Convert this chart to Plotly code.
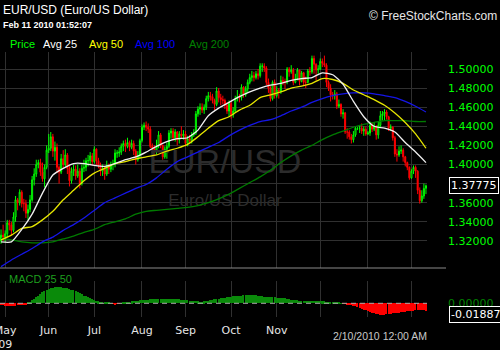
import pandas as pd
import plotly.graph_objects as go

# ---------------- data (prices in pips, 1e-4) ----------------
opens = [
    13200, 13260, 13240, 13275, 13390, 13365, 13310, 13450, 13630, 13600,
    13710, 13590, 13590, 13490, 13530, 13630, 13840, 13900, 14000, 14020,
    13920, 13850, 13970, 14150, 14170, 14290, 14140, 14180, 13970, 13920,
    14060, 14000, 14100, 13960, 13830, 13930, 13950, 13880, 13930, 13800,
    13960, 13970, 14040, 14040, 14090, 14030, 14160, 14040, 13990, 13930,
    13960, 13900, 13990, 13950, 14000, 14000, 14120, 14120, 14130, 14190,
    14220, 14190, 14230, 14180, 14220, 14140, 14050, 14090, 14250, 14390,
    14410, 14390, 14370, 14190, 14170, 14150, 14190, 14310, 14200, 14080,
    14160, 14190, 14330, 14350, 14280, 14340, 14260, 14320, 14300, 14320,
    14220, 14270, 14250, 14310, 14330, 14530, 14580, 14600, 14570, 14600,
    14690, 14720, 14710, 14670, 14630, 14770, 14700, 14680, 14670, 14620,
    14560, 14640, 14520, 14560, 14690, 14710, 14700, 14810, 14730, 14790,
    14860, 14910, 14930, 14910, 14950, 14930, 15030, 15030, 15010, 14860,
    14800, 14690, 14860, 14720, 14780, 14770, 14880, 14870, 14860, 15000,
    14970, 14990, 14860, 14900, 14990, 14870, 14960, 14860, 14860, 14980,
    14970, 15110, 15050, 14990, 15000, 15080, 15060, 15040, 14860, 14800,
    14730, 14720, 14740, 14610, 14630, 14530, 14540, 14340, 14340, 14290,
    14260, 14310, 14380, 14380, 14380, 14350, 14370, 14320, 14330, 14410,
    14370, 14400, 14310, 14410, 14510, 14530, 14550, 14500, 14380, 14390,
    14280, 14110, 14100, 14140, 14150, 14080, 14020, 13970, 13860, 13930,
    13970, 13930, 13730, 13620, 13670, 13750,
]
closes = [
    13260, 13240, 13275, 13390, 13365, 13310, 13450, 13630, 13600, 13710,
    13590, 13590, 13490, 13530, 13630, 13840, 13900, 14000, 14020, 13920,
    13850, 13970, 14150, 14170, 14290, 14140, 14180, 13970, 13920, 14060,
    14000, 14100, 13960, 13830, 13930, 13950, 13880, 13930, 13800, 13960,
    13970, 14040, 14040, 14090, 14030, 14160, 14040, 13990, 13930, 13960,
    13900, 13990, 13950, 14000, 14000, 14120, 14120, 14130, 14190, 14220,
    14190, 14230, 14180, 14220, 14140, 14050, 14090, 14250, 14390, 14410,
    14390, 14370, 14190, 14170, 14150, 14190, 14310, 14200, 14080, 14160,
    14190, 14330, 14350, 14280, 14340, 14260, 14320, 14300, 14320, 14220,
    14270, 14250, 14310, 14330, 14530, 14580, 14600, 14570, 14600, 14690,
    14720, 14710, 14670, 14630, 14770, 14700, 14680, 14670, 14620, 14560,
    14640, 14520, 14560, 14690, 14710, 14700, 14810, 14730, 14790, 14860,
    14910, 14930, 14910, 14950, 14930, 15030, 15030, 15010, 14860, 14800,
    14690, 14860, 14720, 14780, 14770, 14880, 14870, 14860, 15000, 14970,
    14990, 14860, 14900, 14990, 14870, 14960, 14860, 14860, 14980, 14970,
    15110, 15050, 14990, 15000, 15080, 15060, 15040, 14860, 14800, 14730,
    14720, 14740, 14610, 14630, 14530, 14540, 14340, 14340, 14290, 14260,
    14310, 14380, 14380, 14380, 14350, 14370, 14320, 14330, 14410, 14370,
    14400, 14310, 14410, 14510, 14530, 14550, 14500, 14380, 14390, 14280,
    14110, 14100, 14140, 14150, 14080, 14020, 13970, 13860, 13930, 13970,
    13930, 13730, 13620, 13670, 13750, 13778,
]
highs = [
    13320, 13370, 13310, 13420, 13420, 13400, 13500, 13670, 13650, 13740,
    13730, 13640, 13630, 13580, 13680, 13880, 13960, 14050, 14050, 14060,
    14020, 14000, 14200, 14320, 14340, 14320, 14240, 14220, 13990, 14110,
    14150, 14160, 14120, 13990, 13970, 14000, 13990, 14000, 13960, 14000,
    14050, 14070, 14100, 14130, 14120, 14190, 14170, 14070, 14020, 14000,
    13980, 14040, 14010, 14030, 14050, 14160, 14150, 14180, 14220, 14250,
    14260, 14280, 14250, 14260, 14250, 14160, 14140, 14270, 14420, 14440,
    14450, 14430, 14400, 14220, 14200, 14260, 14350, 14330, 14210, 14190,
    14230, 14360, 14380, 14380, 14370, 14350, 14350, 14400, 14360, 14350,
    14300, 14310, 14340, 14370, 14560, 14610, 14640, 14640, 14630, 14720,
    14760, 14760, 14740, 14690, 14810, 14800, 14740, 14720, 14690, 14650,
    14670, 14660, 14600, 14720, 14780, 14740, 14840, 14820, 14820, 14890,
    14950, 14980, 14970, 14980, 15000, 15060, 15060, 15060, 15030, 14900,
    14820, 14880, 14890, 14820, 14800, 14930, 14920, 14900, 15020, 15020,
    15040, 15010, 14950, 15010, 14990, 14980, 14970, 14920, 15000, 15020,
    15140, 15140, 15060, 15040, 15110, 15110, 15140, 15060, 14880, 14840,
    14760, 14780, 14760, 14680, 14640, 14580, 14550, 14380, 14360, 14320,
    14350, 14400, 14390, 14410, 14430, 14400, 14400, 14350, 14450, 14440,
    14440, 14410, 14450, 14560, 14560, 14580, 14570, 14510, 14420, 14400,
    14300, 14160, 14190, 14200, 14170, 14090, 14030, 13980, 13950, 13990,
    13990, 13940, 13760, 13730, 13800, 13790,
]
lows = [
    13170, 13200, 13190, 13240, 13310, 13260, 13290, 13400, 13520, 13570,
    13550, 13510, 13440, 13420, 13500, 13610, 13780, 13870, 13960, 13880,
    13820, 13760, 13950, 14120, 14140, 14080, 14040, 13910, 13800, 13900,
    13960, 13970, 13900, 13770, 13800, 13880, 13840, 13860, 13750, 13780,
    13920, 13930, 13980, 14000, 13990, 14010, 13990, 13960, 13880, 13880,
    13840, 13880, 13900, 13920, 13940, 13970, 14070, 14080, 14100, 14140,
    14130, 14170, 14140, 14160, 14100, 14000, 14030, 14060, 14230, 14360,
    14350, 14330, 14170, 14120, 14100, 14110, 14170, 14170, 14050, 14060,
    14060, 14170, 14270, 14250, 14240, 14200, 14220, 14270, 14260, 14190,
    14190, 14220, 14220, 14290, 14310, 14500, 14520, 14540, 14530, 14570,
    14660, 14670, 14640, 14570, 14610, 14650, 14620, 14630, 14580, 14530,
    14500, 14480, 14490, 14540, 14660, 14650, 14670, 14700, 14710, 14760,
    14840, 14870, 14870, 14890, 14890, 14910, 14970, 14970, 14830, 14750,
    14660, 14670, 14690, 14700, 14690, 14740, 14830, 14790, 14840, 14920,
    14950, 14830, 14850, 14880, 14830, 14860, 14830, 14800, 14850, 14930,
    14950, 14950, 14880, 14950, 14990, 15020, 15020, 14810, 14770, 14660,
    14680, 14680, 14580, 14590, 14500, 14480, 14320, 14270, 14260, 14220,
    14230, 14290, 14360, 14330, 14320, 14300, 14300, 14310, 14300, 14340,
    14350, 14260, 14270, 14390, 14460, 14460, 14470, 14350, 14350, 14250,
    14080, 14030, 14080, 14110, 14030, 13980, 13940, 13840, 13850, 13900,
    13860, 13690, 13590, 13600, 13640, 13690,
]
# MACD 25/50 histogram (units of 1e-4)
macd = [
    -40, -50, -60, -65, -70, -70, -65, -60, -55, -50, -40, -30, -20,
    10, 40, 80, 120, 160, 200, 240, 280, 310, 340,
    370, 390, 405, 410, 410, 410, 410, 405, 400, 390,
    370, 350, 330, 310, 290, 260, 230, 200, 175, 150,
    125, 100, 80, 65, 50, 40, 35, 30, 20, 10,
    5, -10, -20, -15, -5, 5, 10, 20, 30, 40,
    50, 55, 60, 65, 75, 80, 85, 90, 95, 100,
    105, 110, 115, 118, 120, 120, 118, 116, 115, 115,
    112, 110, 105, 100, 95, 90, 85, 80, 72, 65,
    60, 55, 50, 45, 45, 50, 60, 70, 80, 90,
    100, 110, 120, 130, 135, 140, 150, 155, 165, 175,
    180, 188, 195, 200, 205, 208, 210, 212, 212, 212,
    210, 200, 190, 180, 170, 165, 160, 158, 155, 152,
    145, 140, 135, 130, 125, 110, 100, 90, 85, 80,
    75, 72, 70, 68, 66, 64, 62, 60, 60, 58,
    55, 52, 50, 48, 45, 42, 38, 35, 30, 25,
    15, 5, -5, -15, -25, -35, -45, -60, -80, -100,
    -120, -140, -160, -180, -200, -220, -240, -260, -275, -285,
    -290, -292, -290, -280, -270, -262, -258, -255, -250, -245,
    -230, -222, -215, -205, -195, -190, -185, -180, -175, -172,
    -170, -178, -188.7,
]
# Moving averages, sampled weekly (Wednesdays)
avg25 = [1.319, 1.319, 1.332, 1.348, 1.370, 1.389, 1.396, 1.401, 1.401, 1.399,
         1.398, 1.401, 1.405, 1.408, 1.413, 1.419, 1.424, 1.427, 1.428, 1.436,
         1.451, 1.459, 1.465, 1.471, 1.476, 1.480, 1.483, 1.485, 1.488, 1.490,
         1.491, 1.496, 1.494, 1.484, 1.466, 1.450, 1.440, 1.438, 1.434, 1.423,
         1.413, 1.402]
avg50 = [1.321, 1.326, 1.333, 1.335, 1.342, 1.351, 1.363, 1.373, 1.383, 1.391,
         1.396, 1.401, 1.403, 1.406, 1.408, 1.410, 1.414, 1.417, 1.421, 1.429,
         1.438, 1.446, 1.450, 1.457, 1.462, 1.470, 1.473, 1.476, 1.480, 1.482,
         1.485, 1.490, 1.489, 1.485, 1.478, 1.473, 1.468, 1.462, 1.454, 1.444,
         1.432, 1.417]
avg100 = [1.293, 1.300, 1.306, 1.312, 1.319, 1.324, 1.331, 1.337, 1.344, 1.352,
          1.360, 1.365, 1.370, 1.375, 1.379, 1.386, 1.395, 1.403, 1.408, 1.413,
          1.418, 1.423, 1.430, 1.436, 1.441, 1.445, 1.447, 1.451, 1.456, 1.460,
          1.465, 1.469, 1.472, 1.474, 1.475, 1.475, 1.474, 1.472, 1.470, 1.466,
          1.461, 1.455]
avg200 = [1.323, 1.321, 1.319, 1.318, 1.318, 1.319, 1.322, 1.325, 1.329, 1.332,
          1.337, 1.340, 1.343, 1.348, 1.351, 1.352, 1.353, 1.354, 1.355, 1.357,
          1.360, 1.364, 1.369, 1.375, 1.381, 1.387, 1.394, 1.402, 1.409, 1.415,
          1.420, 1.426, 1.431, 1.435, 1.439, 1.442, 1.444, 1.446, 1.446, 1.446,
          1.445, 1.445]

month_ticks = ["2009-05-01", "2009-06-01", "2009-07-01", "2009-08-03", "2009-09-01",
               "2009-10-01", "2009-11-02", "2009-12-01", "2010-01-01", "2010-02-01"]
month_labels = ["May<br>09", "Jun", "Jul", "Aug", "Sep", "Oct", "Nov", "", "", ""]
price_ticks = [1.32, 1.34, 1.36, 1.38, 1.40, 1.42, 1.44, 1.46, 1.48, 1.50]
price_labels = ["1.32000", "1.34000", "1.36000", "", "1.40000", "1.42000",
                "1.44000", "1.46000", "1.48000", "1.50000"]
last_price = 1.37775
last_macd = -0.01887

# ---------------- trading-day categories ----------------
days = [d.strftime("%Y-%m-%d") for d in pd.bdate_range("2009-04-29", "2010-02-10")]
ma_days = [d.strftime("%Y-%m-%d") for d in pd.date_range("2009-04-29", "2010-02-10", freq="7D")]
P = 10000.0

W, H = 500, 350
XR = 427 / W
def py(px):
    return 1 - px / H

GRID = "#303030"
XRANGE = [-0.5, len(days) - 0.5]
fig = go.Figure()

# watermark (behind everything)
fig.add_trace(go.Scatter(x=["2009-09-28", "2009-09-28"], y=[1.3995, 1.3607],
                         mode="text", text=["EUR/USD", "Euro/US Dollar"],
                         textfont=dict(family="Liberation Sans", size=[34, 17], color="#2c2c2c"),
                         hoverinfo="skip", xaxis="x", yaxis="y"))

fig.add_trace(go.Candlestick(
    x=days, open=[v / P for v in opens], high=[v / P for v in highs],
    low=[v / P for v in lows], close=[v / P for v in closes],
    increasing=dict(line=dict(color="#00FF00", width=1), fillcolor="#000000"),
    decreasing=dict(line=dict(color="#FF0000", width=1), fillcolor="#FF0000"),
    whiskerwidth=0, xaxis="x", yaxis="y", hoverinfo="skip"))

for vals, col, w in [(avg200, "#007A00", 1.3), (avg100, "#1515E6", 1.3),
                     (avg50, "#E6E600", 1.3), (avg25, "#F0F0F0", 1.3)]:
    fig.add_trace(go.Scatter(x=ma_days, y=vals, mode="lines",
                             line=dict(color=col, width=w, shape="spline", smoothing=0.6),
                             xaxis="x", yaxis="y", hoverinfo="skip"))

fig.add_trace(go.Bar(x=days, y=[v / P for v in macd],
                     marker=dict(color=["#0A8A0A" if v >= 0 else "#FF0000" for v in macd], line=dict(width=0)),
                     width=0.6, xaxis="x2", yaxis="y2", hoverinfo="skip"))

xcommon = dict(domain=[0, XR], type="category", categoryorder="array", categoryarray=days,
               range=XRANGE, autorange=False, tickvals=month_ticks, showgrid=True,
               gridcolor=GRID, zeroline=False, showline=False, ticks="", automargin=False)
fig.update_layout(
    width=W, height=H, margin=dict(l=0, r=0, t=0, b=0, autoexpand=False),
    paper_bgcolor="#000000", plot_bgcolor="#000000", showlegend=False,
    bargap=0,
    xaxis=dict(anchor="y", showticklabels=False, rangeslider=dict(visible=False), **xcommon),
    xaxis2=dict(anchor="y2", ticktext=month_labels, ticklabeloverflow="allow",
                ticklabelstandoff=5,
                tickfont=dict(family="DejaVu Sans", size=11, color="#E6E6E6"), **xcommon),
    yaxis=dict(domain=[py(268), py(52)], anchor="x", side="right", automargin=False,
               range=[1.2916, 1.5178], tickvals=price_ticks,
               ticktext=price_labels, showgrid=True, gridcolor=GRID,
               zeroline=False, ticks="", ticklabelstandoff=20,
               tickfont=dict(family="DejaVu Sans", size=11, color="#00FF00")),
    yaxis2=dict(domain=[py(317), py(281)], anchor="x2", side="right", automargin=False,
                range=[-0.0352, 0.0573], tickvals=[0], ticktext=["0.00000"],
                showgrid=False, zeroline=False, ticks="", ticklabelstandoff=20,
                tickfont=dict(family="DejaVu Sans", size=11, color="#008000")),
)

shapes = [
    dict(type="line", xref="paper", yref="paper", x0=0, x1=446 / W, y0=py(268), y1=py(268),
         line=dict(color="#8A8A8A", width=1)),
    dict(type="line", xref="paper", yref="y2", x0=0, x1=XR, y0=0, y1=0,
         line=dict(color="#A8A8A8", width=1, dash="5px,4px")),
]
fig.update_layout(shapes=shapes)

def ann(text, x, y, size, color, family="Liberation Sans", xanchor="left", **kw):
    d = dict(text=text, x=x / W, y=py(y), xref="paper", yref="paper", showarrow=False,
             xanchor=xanchor, yanchor="middle", font=dict(family=family, size=size, color=color))
    d.update(kw)
    return d

anns = [
    ann("EUR/USD (Euro/US Dollar)", 1, 10, 12, "#FFFFFF"),
    ann("<b>Feb 11 2010 01:52:07</b>", 1, 25, 9, "#FFFFFF"),
    ann("© FreeStockCharts.com", 499, 16, 12, "#E6E6E6", xanchor="right"),
    ann("Price", 8, 44, 11, "#00FF00"),
    ann("Avg 25", 41, 44, 11, "#FFFFFF"),
    ann("Avg 50", 87, 44, 11, "#FFFF00"),
    ann("Avg 100", 133, 44, 11, "#0000FF"),
    ann("Avg 200", 187, 44, 11, "#008000"),
    ann("MACD 25 50", 7, 279, 11, "#1E9E1E"),
    ann("2/10/2010 12:00 AM", 331, 336, 10.5, "#C8C8C8"),
    dict(text=f"{last_price:.5f}", x=449 / W, y=last_price, xref="paper", yref="y",
         showarrow=False, xanchor="left", yanchor="middle",
         font=dict(family="DejaVu Sans", size=11, color="#FFFFFF"),
         bgcolor="#000000", bordercolor="#FFFFFF", borderwidth=1, borderpad=1),
    dict(text=f"{last_macd:.5f}", x=449 / W, y=py(314), xref="paper", yref="paper",
         showarrow=False, xanchor="left", yanchor="middle",
         font=dict(family="DejaVu Sans", size=11, color="#FFFFFF"),
         bgcolor="#000000", bordercolor="#FFFFFF", borderwidth=1, borderpad=1),
]
fig.update_layout(annotations=anns)

fig.write_html("out.html")
